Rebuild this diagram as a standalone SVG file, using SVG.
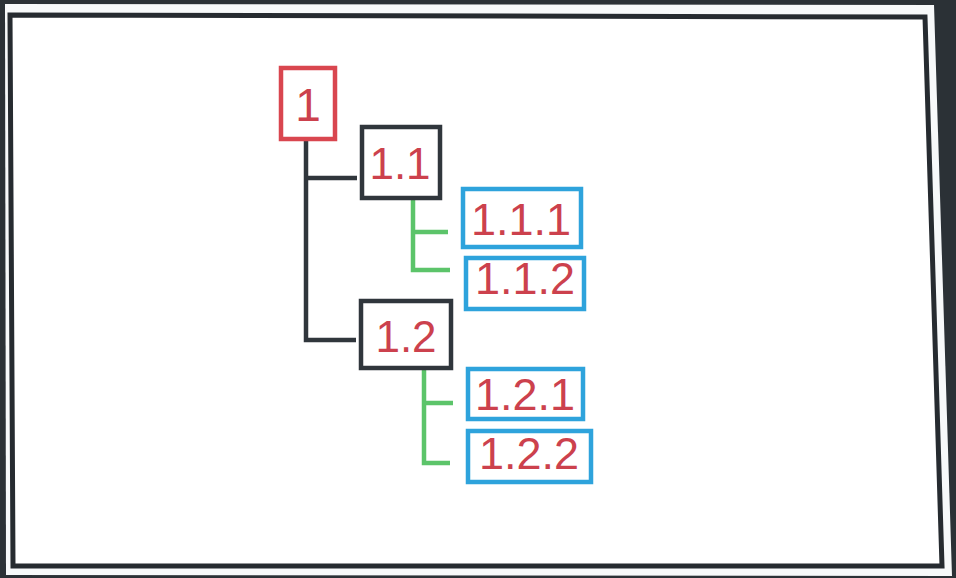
<svg xmlns="http://www.w3.org/2000/svg" width="956" height="578" viewBox="0 0 956 578">
<style>
.bx{fill:#ffffff;stroke-width:4.5}
.r{stroke:#d9464f}
.k{stroke:#30363c}
.b{stroke:#2ea3dc}
.t{font-family:"Liberation Sans",Arial,sans-serif;fill:#cc414d;text-anchor:middle}
.ck{fill:none;stroke:#30363c;stroke-width:4.5}
.cg{fill:none;stroke:#5cc46a;stroke-width:4.5}
</style>
<rect x="0" y="0" width="956" height="578" fill="#2b3136"/>
<polygon points="5,4 934,5 952,576 6,575" fill="#f7f9fa"/>
<polygon points="10,15 925,17 942,566 13,566" fill="#ffffff" stroke="#262b30" stroke-width="5"/>
<g id="connectors">
<path class="ck" d="M306,140 V340 H356 M306,178 H357"/>
<path class="cg" d="M413,200 V270 H450 M413,232 H448"/>
<path class="cg" d="M424,370 V463 H450 M424,403 H453"/>
</g>
<g id="n1"><rect class="bx r" x="281" y="68" width="54" height="71"/><text class="t" x="308" y="121" font-size="46">1</text></g>
<g id="n1_1"><rect class="bx k" x="362" y="127" width="78" height="71"/><text class="t" x="400" y="179" font-size="44">1.1</text></g>
<g id="n1_2"><rect class="bx k" x="361" y="301" width="90" height="67"/><text class="t" x="406" y="352" font-size="44">1.2</text></g>
<g id="n1_1_1"><rect class="bx b" x="463" y="189" width="118" height="58"/><text class="t" x="521" y="235" font-size="45">1.1.1</text></g>
<g id="n1_1_2"><rect class="bx b" x="466" y="258" width="118" height="51"/><text class="t" x="525" y="294" font-size="45">1.1.2</text></g>
<g id="n1_2_1"><rect class="bx b" x="468" y="369" width="115" height="50"/><text class="t" x="525" y="410" font-size="45">1.2.1</text></g>
<g id="n1_2_2"><rect class="bx b" x="468" y="431" width="123" height="51"/><text class="t" x="529" y="469" font-size="45">1.2.2</text></g>
</svg>
